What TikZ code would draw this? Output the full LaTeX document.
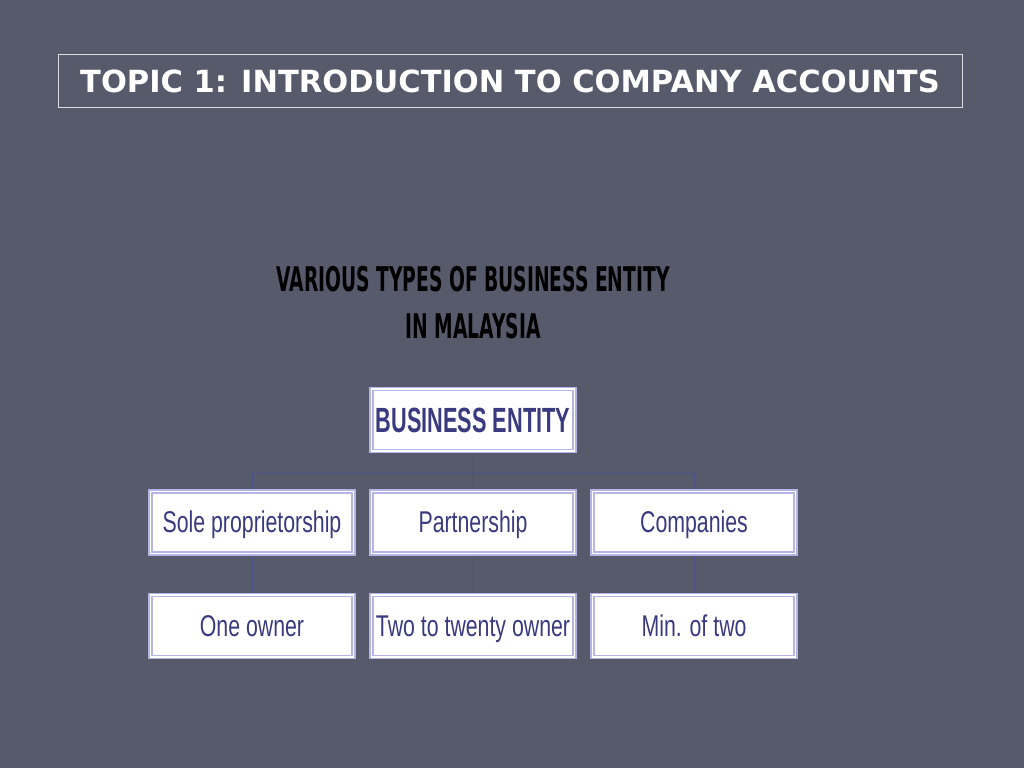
\documentclass[tikz,border=0pt]{standalone}
\usepackage{fontspec}
\setmainfont{Liberation Sans}
\newfontfamily\titlefont{DejaVu Sans}
\newfontfamily\narrowfont[FakeStretch=0.71]{Liberation Sans}
\newfontfamily\narrowboldfont[FakeStretch=0.62]{Liberation Sans Bold}
\newfontfamily\headfont[FakeStretch=0.55]{DejaVu Sans Bold}
\definecolor{bg}{HTML}{575A6B}
\definecolor{navy}{HTML}{3A3A80}
\definecolor{lav}{HTML}{B4B4E6}
\definecolor{linec}{HTML}{4A4F8A}
\begin{document}
\begin{tikzpicture}[x=1pt,y=-1pt,
  box/.style={draw=lav, line width=1.6pt, double=white, double distance=1.6pt, fill=white,
    minimum width=203pt, minimum height=62pt, inner sep=0pt},
  lbl/.style={anchor=base, inner sep=0pt, text=navy, font=\narrowfont\fontsize{30}{34}\selectfont},
  conn/.style={draw=linec, line width=1pt}]
\useasboundingbox (0,0) rectangle (1024,768);
\fill[bg] (0,0) rectangle (1024,768);
% title
\node[draw=white!80!bg, line width=1pt, minimum width=904pt, minimum height=52pt, inner sep=0pt,
  text=white, font=\titlefont\bfseries\fontsize{30.5}{33}\selectfont] (title) at (510,81)
  {TOPIC 1: INTRODUCTION TO COMPANY ACCOUNTS};
% subtitle
\node[text=black, align=center, inner sep=0pt, font=\headfont\fontsize{34}{47}\selectfont] (sub) at (473,303)
  {VARIOUS TYPES OF BUSINESS ENTITY\\IN MALAYSIA};
% bus coordinates
\coordinate (bus) at (473,473);
\coordinate (busL) at (252,473);
\coordinate (busR) at (694,473);
% connectors (behind boxes)
\draw[conn] (473,453) -- (bus);
\draw[conn] (busL) -- (busR);
\draw[conn] (busL) -- (252,490);
\draw[conn] (bus) -- (473,490);
\draw[conn] (busR) -- (694,490);
\draw[conn] (252,555) -- (252,594);
\draw[conn] (473,555) -- (473,594);
\draw[conn] (694,555) -- (694,594);
% boxes
\node[box] (be) at (473,420) {};
\node[box] (sp) at (252,522.5) {};
\node[box] (pa) at (473,522.5) {};
\node[box] (co) at (694,522.5) {};
\node[box] (oo) at (252,626) {};
\node[box] (tt) at (473,626) {};
\node[box] (mt) at (694,626) {};
% labels
\node[lbl, font=\narrowboldfont\fontsize{35}{38}\selectfont] (tbe) at ([yshift=-12.5pt]be.center) {BUSINESS ENTITY};
\node[lbl] (tsp) at ([yshift=-10pt]sp.center) {Sole proprietorship};
\node[lbl] (tpa) at ([yshift=-10pt]pa.center) {Partnership};
\node[lbl] (tco) at ([yshift=-10pt]co.center) {Companies};
\node[lbl] (too) at ([yshift=-10pt]oo.center) {One owner};
\node[lbl] (ttt) at ([yshift=-10pt]tt.center) {Two to twenty owner};
\node[lbl] (tmt) at ([yshift=-10pt]mt.center) {Min. of two};
\end{tikzpicture}
\end{document}
